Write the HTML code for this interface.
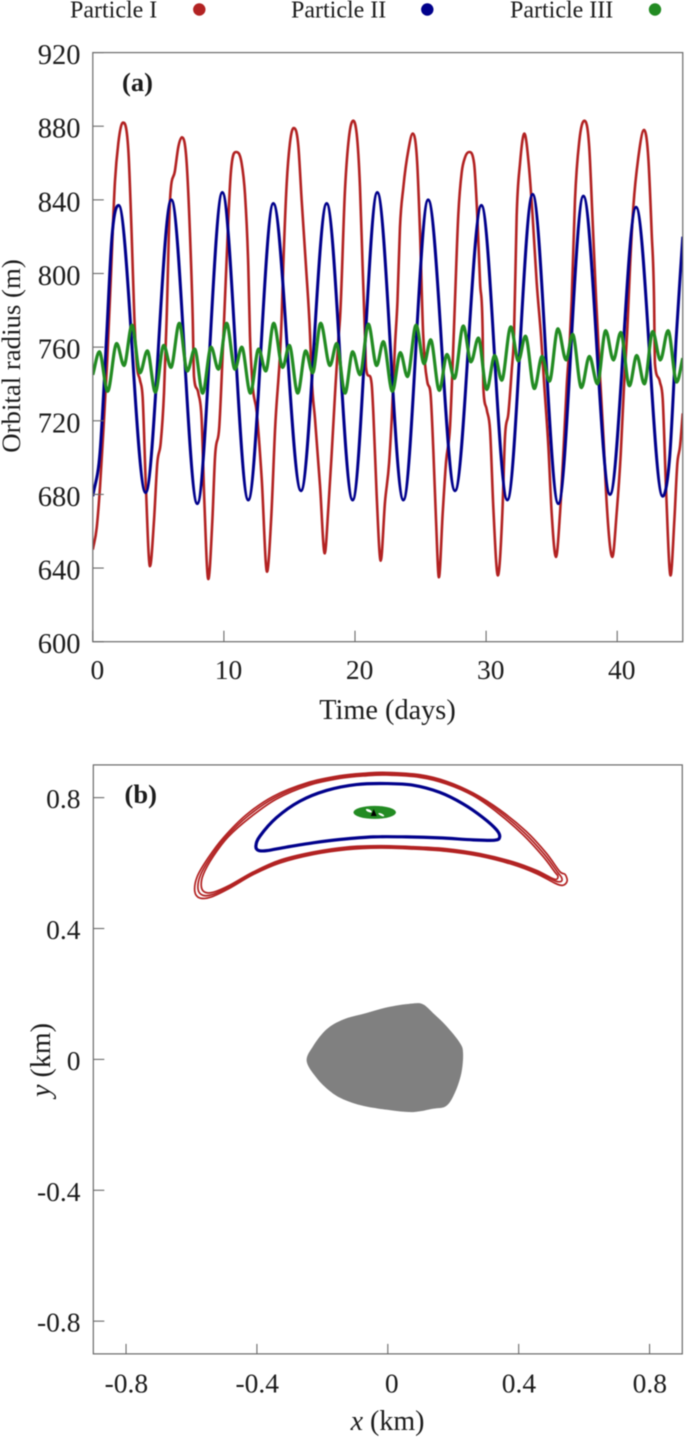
<!DOCTYPE html>
<html lang="en">
<head>
<meta charset="utf-8">
<title>Particle orbits</title>
<style>
html,body{margin:0;padding:0;background:#fff;}
body{width:685px;height:1438px;overflow:hidden;}
svg{display:block;font-family:"Liberation Serif",serif;fill:#1c1c1c;filter:blur(0.4px);}
</style>
</head>
<body>
<svg id="fig" xmlns="http://www.w3.org/2000/svg" width="685" height="1438" viewBox="0 0 685 1438">
  <defs>
    <clipPath id="clipA"><rect x="93" y="52.5" width="589.5" height="589.2"/></clipPath>
  </defs>
  <g>
    <text x="70" y="17.5" font-size="24">Particle I</text>
    <circle cx="199.3" cy="9.5" r="6.2" fill="#b22222"/>
    <text x="291" y="17.5" font-size="24">Particle II</text>
    <circle cx="427.3" cy="9.5" r="6.2" fill="#00008b"/>
    <text x="510" y="17.5" font-size="24">Particle III</text>
    <circle cx="655" cy="9.5" r="6.2" fill="#228b22"/>
  </g>
  <g id="panelA"></g>
  <g id="panelB"></g>
  <text x="122" y="91" font-size="26.5" font-weight="bold">(a)</text>
  <text x="124.5" y="803" font-size="26.5" font-weight="bold">(b)</text>
  <text x="387.5" y="719" font-size="28.3" text-anchor="middle">Time (days)</text>
  <text transform="translate(20 356) rotate(-90)" font-size="26.8" text-anchor="middle">Orbital radius (m)</text>
  <text x="387.5" y="1430" font-size="28" text-anchor="middle"><tspan font-style="italic">x</tspan> (km)</text>
  <text transform="translate(50 1060) rotate(-90)" font-size="28" text-anchor="middle"><tspan font-style="italic">y</tspan> (km)</text>
</svg>
<script>
// Panel (a) data: time in days, orbital radius in metres
const timeTicks = [0, 10, 20, 30, 40];
const radiusTicks = [600, 640, 680, 720, 760, 800, 840, 880, 920];
const particle1Times = [0,0.3,0.55,0.85,1.1,1.39,1.69,1.95,2.3,2.71,2.96,3.17,3.35,3.6,3.8,4.03,4.36,4.67,4.92,5.18,5.43,5.63,5.89,6.27,6.53,6.8,7.16,7.41,7.62,7.72,8.05,8.3,8.51,8.81,9.12,9.32,9.65,9.91,10.21,10.52,10.92,11.35,11.61,11.86,11.99,12.17,12.5,12.88,13.29,13.6,13.9,14.4,14.53,14.79,15.04,15.32,15.68,15.93,16.26,16.57,16.7,16.95,17.33,17.69,17.97,18.22,18.48,18.73,18.86,19.24,19.54,19.87,20.38,20.58,20.76,20.84,21.27,21.4,21.65,21.96,22.29,22.6,22.8,23.05,23.24,23.43,23.69,24.07,24.4,24.76,24.96,25.2,25.34,25.52,25.77,25.98,26.18,26.4,26.69,26.95,27.25,27.45,27.63,27.88,28.14,28.39,28.72,29.08,29.33,29.54,29.74,29.79,30.05,30.3,30.55,30.9,31.24,31.44,31.7,31.95,32.13,32.33,32.59,32.92,33.27,33.55,33.86,34.19,34.42,34.75,35.0,35.33,35.64,35.89,36.15,36.4,36.53,36.78,37.11,37.5,37.88,38.11,38.39,38.69,38.95,39.2,39.63,39.96,40.27,40.52,40.78,40.98,41.23,41.61,42.05,42.38,42.63,42.81,42.88,43.26,43.47,43.72,44.07,44.36,44.59,44.79,45];
const particle1Radius = [650,662,684,720,753,800,850,871,882,867,822,776,751,742,733,688,641,666,697,708,735,775,840,856,869,874,860,822,776,744,735,721,676,634,666,700,717,757,808,854,866,860,843,804,766,741,725,689,638,666,715,775,804,849,871,879,869,840,804,767,743,721,685,648,673,702,735,764,776,846,874,883,847,804,767,749,740,724,680,644,676,697,721,761,785,825,847,867,876,858,822,767,751,741,734,703,666,635,670,698,717,751,786,832,855,863,866,860,831,795,767,738,726,715,673,636,670,711,724,747,767,831,860,876,858,831,795,766,741,706,670,646,670,702,739,766,786,840,872,883,867,831,786,744,711,675,646,670,702,739,771,804,836,863,878,862,822,786,751,741,732,684,636,666,697,706,724];
const particle2Times = [0,0.55,1.06,1.44,1.97,4.03,5.99,7.97,9.88,11.86,13.77,15.88,17.84,19.82,21.7,23.69,25.58,27.63,29.64,31.62,33.55,35.51,37.42,39.45,41.44,43.47,44,44.5,45];
const particle2Radius = [679,703,767,818,837,681,840,675,844,677,838,682,838,677,844,677,840,682,837,677,843,675,842,680,836,679,700,765,820];
const particle3Times = [0,0.5,1.13,1.82,2.38,2.99,3.6,4.16,4.77,5.41,5.96,6.6,7.21,7.77,8.38,9.02,9.58,10.21,10.84,11.36,12.02,12.65,13.19,13.8,14.48,14.99,15.63,16.24,16.77,17.38,18.09,18.6,19.24,19.82,20.38,21.02,21.65,22.16,22.85,23.46,24,24.66,25.27,25.77,26.43,27.02,27.58,28.26,28.85,29.41,30.05,30.66,31.19,31.88,32.46,33,33.68,34.27,34.83,35.48,36.1,36.6,37.27,37.88,38.49,39.12,39.71,40.27,40.93,41.49,42.07,42.71,43.29,43.88,44.54,45];
const particle3Radius = [745,757.5,736,762,750,772,746,758,735.5,761,749,773,747,759,735,760,748,773,748,760,735,759,747,773,749,761,735,758,746,773,750,762,735,757.5,745,772.5,750,763,736,757,744,772,751,764,736.5,756,743,771.5,752,765,737,755.5,742,771,752.5,766,737.5,755,741.5,770,753,767,738,755,740,769,753,768,739,755.5,740,768.5,753,769,741,754];

// Panel (b) data: positions in km
const mapTicks = [-0.8, -0.4, 0, 0.4, 0.8];
const mapTickLabels = ['-0.8', '-0.4', '0', '0.4', '0.8'];
const orbit1OuterX = [-0.004,0.098,0.179,0.261,0.342,0.423,0.484,0.525,0.542,0.548,0.535,0.51,0.454,0.383,0.281,0.179,0.077,-0.024,-0.126,-0.228,-0.33,-0.411,-0.482,-0.538,-0.574,-0.59,-0.582,-0.549,-0.503,-0.432,-0.35,-0.248,-0.147,-0.065];
const orbit1OuterY = [0.877,0.87,0.85,0.814,0.763,0.697,0.631,0.575,0.565,0.545,0.532,0.539,0.568,0.595,0.621,0.636,0.643,0.646,0.641,0.626,0.6,0.565,0.524,0.497,0.493,0.514,0.56,0.616,0.677,0.748,0.804,0.845,0.867,0.875];
const orbit1MiddleX = [-0.004,0.098,0.179,0.261,0.34,0.418,0.479,0.519,0.531,0.53,0.512,0.48,0.454,0.383,0.281,0.179,0.077,-0.024,-0.126,-0.228,-0.33,-0.411,-0.482,-0.535,-0.566,-0.58,-0.573,-0.541,-0.496,-0.426,-0.345,-0.246,-0.146,-0.065];
const orbit1MiddleY = [0.873,0.866,0.846,0.81,0.758,0.692,0.626,0.572,0.556,0.544,0.545,0.56,0.573,0.6,0.625,0.64,0.647,0.65,0.645,0.63,0.605,0.569,0.529,0.504,0.502,0.521,0.562,0.618,0.678,0.745,0.8,0.841,0.863,0.871];
const orbit1InnerX = [-0.004,0.098,0.179,0.261,0.337,0.413,0.474,0.511,0.52,0.515,0.497,0.454,0.383,0.281,0.179,0.077,-0.024,-0.126,-0.228,-0.33,-0.411,-0.482,-0.533,-0.559,-0.57,-0.564,-0.533,-0.488,-0.419,-0.34,-0.243,-0.145,-0.065];
const orbit1InnerY = [0.869,0.862,0.842,0.806,0.753,0.687,0.621,0.572,0.56,0.55,0.556,0.578,0.604,0.629,0.644,0.65,0.653,0.649,0.634,0.609,0.573,0.533,0.511,0.511,0.529,0.565,0.621,0.68,0.741,0.796,0.837,0.859,0.867];
const orbit2X = [-0.004,0.077,0.159,0.23,0.291,0.332,0.342,0.327,0.261,0.159,0.057,-0.045,-0.147,-0.228,-0.309,-0.37,-0.396,-0.403,-0.391,-0.34,-0.269,-0.187,-0.096];
const orbit2Y = [0.843,0.838,0.816,0.781,0.739,0.702,0.68,0.67,0.671,0.677,0.68,0.68,0.672,0.662,0.649,0.638,0.639,0.653,0.682,0.739,0.789,0.822,0.84];
const orbit3Center = [-0.04, 0.755];
const orbit3Radii = [0.065, 0.02];
const bodyX = [0.077,0.108,0.138,0.179,0.22,0.23,0.225,0.205,0.179,0.138,0.077,0.006,-0.075,-0.136,-0.177,-0.218,-0.248,-0.228,-0.187,-0.136,-0.065,0.006];
const bodyY = [0.171,0.168,0.142,0.102,0.051,0.02,-0.041,-0.102,-0.142,-0.151,-0.161,-0.155,-0.142,-0.122,-0.097,-0.056,-0.005,0.041,0.092,0.122,0.142,0.161];

const NS = 'http://www.w3.org/2000/svg';
const AXIS = '#6a6a6a';
const panelA = document.getElementById('panelA');
const panelB = document.getElementById('panelB');

function make(tag, parent, attrs, text) {
  const el = document.createElementNS(NS, tag);
  for (const k in attrs) el.setAttribute(k, attrs[k]);
  if (text !== undefined) el.textContent = text;
  parent.appendChild(el);
  return el;
}

// Axis functions
const xTime = t => 92.8 + 13.11 * t;
const yRadius = v => 641.7 - (v - 600) * 1.841;
const xMap = x => 387.8 + 327.2 * x;
const yMap = y => 1059.4 - 327.2 * y;

// Smooth, shape-preserving cubic through knots, as SVG bezier path
function monotonePath(ts, vs) {
  const n = ts.length, px = ts.map(xTime), py = vs.map(yRadius);
  const d = [], m = [];
  for (let i = 0; i < n - 1; i++) d.push((py[i + 1] - py[i]) / (px[i + 1] - px[i]));
  m[0] = d[0];
  m[n - 1] = d[n - 2];
  for (let i = 1; i < n - 1; i++) {
    if (d[i - 1] * d[i] <= 0) { m[i] = 0; continue; }
    const h0 = px[i] - px[i - 1], h1 = px[i + 1] - px[i];
    const w = (d[i - 1] * h1 + d[i] * h0) / (h0 + h1);
    const lim = 3 * Math.min(Math.abs(d[i - 1]), Math.abs(d[i]));
    m[i] = Math.sign(w) * Math.min(Math.abs(w), lim);
  }
  let s = 'M' + px[0].toFixed(2) + ' ' + py[0].toFixed(2);
  for (let i = 0; i < n - 1; i++) {
    const h = (px[i + 1] - px[i]) / 3;
    s += 'C' + (px[i] + h).toFixed(2) + ' ' + (py[i] + m[i] * h).toFixed(2) + ' ' +
      (px[i + 1] - h).toFixed(2) + ' ' + (py[i + 1] - m[i + 1] * h).toFixed(2) + ' ' +
      px[i + 1].toFixed(2) + ' ' + py[i + 1].toFixed(2);
  }
  return s;
}

// Closed Catmull-Rom loop through map points
function loopPath(xs, ys) {
  const n = xs.length, px = xs.map(xMap), py = ys.map(yMap);
  let s = 'M' + px[0].toFixed(2) + ' ' + py[0].toFixed(2);
  for (let i = 0; i < n; i++) {
    const a = (i - 1 + n) % n, b = (i + 1) % n, c = (i + 2) % n;
    s += 'C' + (px[i] + (px[b] - px[a]) / 6).toFixed(2) + ' ' + (py[i] + (py[b] - py[a]) / 6).toFixed(2) + ' ' +
      (px[b] - (px[c] - px[i]) / 6).toFixed(2) + ' ' + (py[b] - (py[c] - py[i]) / 6).toFixed(2) + ' ' +
      px[b].toFixed(2) + ' ' + py[b].toFixed(2);
  }
  return s + 'Z';
}

// ---------- Panel (a) ----------
const series1 = make('path', panelA, {d: monotonePath(particle1Times, particle1Radius), fill: 'none', stroke: '#b22222', 'stroke-width': 2.6, 'clip-path': 'url(#clipA)'});


const series2 = make('path', panelA, {d: monotonePath(particle2Times, particle2Radius), fill: 'none', stroke: '#00008b', 'stroke-width': 3, 'clip-path': 'url(#clipA)'});


const series3 = make('path', panelA, {d: monotonePath(particle3Times, particle3Radius), fill: 'none', stroke: '#228b22', 'stroke-width': 3.2, 'clip-path': 'url(#clipA)'});



const frameA = make('rect', panelA, {x: xTime(0), y: yRadius(920), width: xTime(45) - xTime(0), height: yRadius(600) - yRadius(920), fill: 'none', stroke: AXIS, 'stroke-width': 1.2});



timeTicks.forEach(t => {
  const tick = make('line', panelA, {x1: xTime(t), x2: xTime(t), y1: yRadius(600), y2: yRadius(600) - 11, stroke: AXIS, 'stroke-width': 1.1});
  
  
  const label = make('text', panelA, {x: xTime(t) + 4.6, y: 679, 'font-size': 27.5, 'text-anchor': 'middle'}, String(t));
  
  
});
radiusTicks.forEach(v => {
  const tick = make('line', panelA, {x1: xTime(0), x2: xTime(0) + 11, y1: yRadius(v), y2: yRadius(v), stroke: AXIS, 'stroke-width': 1.1});
  
  
  const label = make('text', panelA, {x: 80.5, y: yRadius(v) + 11.5, 'font-size': 28.5, 'text-anchor': 'end'}, String(v));
  
  
});

// ---------- Panel (b) ----------
const body = make('path', panelB, {d: loopPath(bodyX, bodyY), fill: '#808080'});



const orbitA = make('path', panelB, {d: loopPath(orbit1OuterX, orbit1OuterY), fill: 'none', stroke: '#b22222', 'stroke-width': 1.7});


const orbitB = make('path', panelB, {d: loopPath(orbit1MiddleX, orbit1MiddleY), fill: 'none', stroke: '#b22222', 'stroke-width': 1.7});


const orbitC = make('path', panelB, {d: loopPath(orbit1InnerX, orbit1InnerY), fill: 'none', stroke: '#b22222', 'stroke-width': 1.7});


const orbit2 = make('path', panelB, {d: loopPath(orbit2X, orbit2Y), fill: 'none', stroke: '#00008b', 'stroke-width': 3.2});


const orbit3 = make('ellipse', panelB, {cx: xMap(orbit3Center[0]), cy: yMap(orbit3Center[1]), rx: orbit3Radii[0] * 327.2, ry: orbit3Radii[1] * 327.2, fill: '#228b22'});


const gapA = make('ellipse', panelB, {cx: xMap(-0.058), cy: yMap(0.76), rx: 3.2, ry: 1.3, fill: '#fff', transform: 'rotate(25 ' + xMap(-0.058) + ' ' + yMap(0.76) + ')'});


const gapB = make('ellipse', panelB, {cx: xMap(-0.02), cy: yMap(0.748), rx: 3.2, ry: 1.1, fill: '#fff', transform: 'rotate(25 ' + xMap(-0.02) + ' ' + yMap(0.748) + ')'});


const marker = make('path', panelB, {d: 'M' + xMap(-0.043) + ' ' + yMap(0.765) + 'L' + xMap(-0.034) + ' ' + yMap(0.744) + 'L' + xMap(-0.052) + ' ' + yMap(0.744) + 'Z', fill: '#000'});



const frameB = make('rect', panelB, {x: xMap(-0.9), y: yMap(0.9), width: xMap(0.9) - xMap(-0.9), height: yMap(-0.9) - yMap(0.9), fill: 'none', stroke: AXIS, 'stroke-width': 1.2});



mapTicks.forEach((v, i) => {
  const xt = make('line', panelB, {x1: xMap(v), x2: xMap(v), y1: yMap(-0.9), y2: yMap(-0.9) - 10, stroke: AXIS, 'stroke-width': 1.1});
  
  
  const xl = make('text', panelB, {x: xMap(v) + (v === 0 ? 4 : 0.3), y: 1392.7, 'font-size': 27.5, 'text-anchor': 'middle'}, mapTickLabels[i]);
  
  
  const yt = make('line', panelB, {x1: xMap(-0.9), x2: xMap(-0.9) + 11, y1: yMap(v), y2: yMap(v), stroke: AXIS, 'stroke-width': 1.1});
  
  
  const yl = make('text', panelB, {x: 80.5, y: yMap(v) + 10.5, 'font-size': 27.5, 'text-anchor': 'end'}, mapTickLabels[i]);
  
  
});
</script>
</body>
</html>
